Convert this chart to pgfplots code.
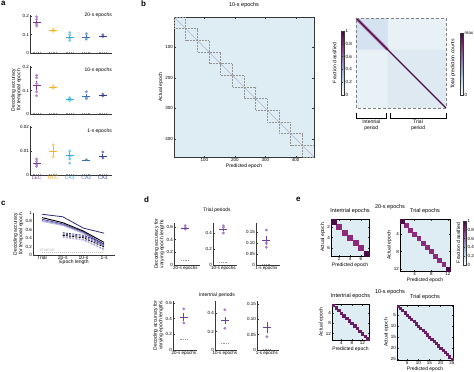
\documentclass[border=0pt]{standalone}
\usepackage{pgfplots}
\pgfplotsset{compat=1.18}
\usepackage{fontspec}
\setmainfont{Liberation Sans}
\pgfkeys{/pgf/number format/assume math mode=true}
\definecolor{lec}{RGB}{122,56,148}
\definecolor{lecl}{RGB}{180,134,198}
\definecolor{mec}{RGB}{246,178,42}
\definecolor{mecl}{RGB}{250,210,122}
\definecolor{cathree}{RGB}{46,170,226}
\definecolor{cathreel}{RGB}{122,200,236}
\definecolor{catwo}{RGB}{58,112,182}
\definecolor{catwol}{RGB}{122,158,206}
\definecolor{caone}{RGB}{52,58,140}
\definecolor{caonel}{RGB}{114,118,178}
\definecolor{axgray}{RGB}{55,55,55}
\definecolor{bgblue}{RGB}{222,236,243}
\definecolor{dmag}{RGB}{142,42,122}
\definecolor{ddark}{RGB}{72,14,68}
\definecolor{dline}{RGB}{105,30,100}
\definecolor{dpur}{RGB}{108,64,158}
\definecolor{dpurl}{RGB}{168,128,198}
\definecolor{navy}{RGB}{42,44,118}
\definecolor{indig}{RGB}{86,76,156}
\definecolor{lav}{RGB}{150,142,202}
\definecolor{lavl}{RGB}{192,188,226}
\definecolor{chgray}{RGB}{150,150,150}
\newcommand{\tk}{\fontsize{4.5}{5}\selectfont}
\newcommand{\lb}{\fontsize{5}{5.5}\selectfont}
\newcommand{\ttl}{\fontsize{5.5}{6}\selectfont}
\newcommand{\pl}{\fontsize{8}{8}\selectfont\bfseries}
\pgfplotsset{
  colormap={fc}{rgb255=(255,255,255) rgb255=(200,222,236) rgb255=(150,168,210) rgb255=(140,108,168) rgb255=(132,46,122) rgb255=(62,10,56)},
  base/.style={scale only axis, anchor=south west, clip=false, scaled ticks=false,
    axis line style={axgray, line width=0.5pt},
    tick style={axgray, line width=0.4pt}, major tick length=1.5pt, tick align=inside,
    ticklabel style={font=\tk, text=black, inner sep=1pt},
    label style={font=\lb}, title style={font=\ttl},
    xlabel style={inner sep=1pt}, ylabel style={inner sep=1pt}},
  lshape/.style={base, axis x line*=bottom, axis y line*=left},
  dax/.style={lshape, xtick={0}, xtick style={draw=none}, xticklabel style={font=\tk}},
  eax/.style={base, xmin=0.5, ymin=0.5, y dir=reverse,
    axis background/.style={fill=bgblue},
    axis line style={black, line width=0.8pt},
    title style={yshift=-4pt}},
  cbar/.style={colormap name=fc, point meta min=0, point meta max=1, colorbar},
  cbstyle/.style={anchor=north west, width=3pt,
    yticklabel style={font=\tk, inner sep=0.8pt}, major tick length=1pt,
    axis line style={axgray, line width=0.4pt},
    every axis y label/.style={font=\lb, at={(axis description cs:#1,0.5)}, rotate=90, anchor=south, inner sep=1pt}},
}
\newcommand{\grp}[4]{%
 \addplot[only marks, mark=*, mark size=1.25pt, color=#2] coordinates {#3};
 \addplot[only marks, mark=-, mark size=4pt, color=#1, line width=0.8pt,
   error bars/.cd, y dir=both, y explicit, error mark=none, error bar style={line width=0.8pt, color=#1}] coordinates {#4};
}
\newcommand{\chance}[1]{%
 \addplot[only marks, mark=-, mark size=4pt, color=chgray, line width=0.4pt, mark options={dash pattern=on 1pt off 0.8pt}] coordinates {#1};
}
\begin{document}
\begin{tikzpicture}
\useasboundingbox (0,0) rectangle (474pt,-372pt);
% panel letters
\node[anchor=north west, inner sep=0pt, font=\pl] at (1pt,-1pt) {a};
\node[anchor=north west, inner sep=0pt, font=\pl] at (141pt,-1pt) {b};
\node[anchor=north west, inner sep=0pt, font=\pl] at (1pt,-201pt) {c};
\node[anchor=north west, inner sep=0pt, font=\pl] at (144pt,-197pt) {d};
\node[anchor=north west, inner sep=0pt, font=\pl] at (296pt,-197pt) {e};

% ---------------- panel a ----------------
\begin{axis}[lshape, at={(30pt,-53pt)}, width=82pt, height=38pt,
  xmin=-0.4, xmax=4.55, ymin=0, ymax=0.205,
  xtick={0,1,2,3,4}, xticklabels={}, xtick style={draw=none},
  ytick={0,0.1,0.2}, yticklabels={0,0.1,0.2}]
\chance{(0,0.004)(1,0.004)(2,0.004)(3,0.004)(4,0.004)}
\grp{lec}{lecl}{(0,0.196)(0,0.182)(0,0.157)(0,0.146)}{(0,0.164) +- (0,0.018)}
\grp{mec}{mecl}{(1,0.129)(1,0.116)}{(1,0.121) +- (0,0.007)}
\grp{cathree}{cathreel}{(2,0.110)(2,0.098)(2,0.080)(2,0.068)}{(2,0.084) +- (0,0.012)}
\grp{catwo}{catwol}{(3,0.104)(3,0.075)}{(3,0.082) +- (0,0.014)}
\grp{caone}{caonel}{(4,0.098)(4,0.089)}{(4,0.092) +- (0,0.006)}
\node[anchor=north east, font=\lb, inner sep=0pt] at (rel axis cs:1,1.05) {20-s epochs};
\end{axis}

\begin{axis}[lshape, at={(30pt,-114pt)}, width=82pt, height=48pt,
  xmin=-0.4, xmax=4.55, ymin=0, ymax=0.205,
  xtick={0,1,2,3,4}, xticklabels={}, xtick style={draw=none},
  ytick={0,0.1,0.2}, yticklabels={0,0.1,0.2},
  ylabel={Decoding accuracy\\for temporal epoch}, ylabel style={align=center, yshift=-1pt}]
\chance{(0,0.002)(1,0.002)(2,0.002)(3,0.002)(4,0.002)}
\grp{lec}{lecl}{(0,0.165)(0,0.155)(0,0.130)(0,0.095)(0,0.078)}{(0,0.123) +- (0,0.020)}
\grp{mec}{mecl}{(1,0.120)(1,0.110)}{(1,0.113) +- (0,0.006)}
\grp{cathree}{cathreel}{(2,0.070)(2,0.067)(2,0.060)(2,0.057)}{(2,0.064) +- (0,0.006)}
\grp{catwo}{catwol}{(3,0.095)(3,0.070)(3,0.065)}{(3,0.074) +- (0,0.010)}
\grp{caone}{caonel}{(4,0.085)(4,0.077)}{(4,0.080) +- (0,0.006)}
\node[anchor=north east, font=\lb, inner sep=0pt] at (rel axis cs:1,0.96) {10-s epochs};
\end{axis}

\begin{axis}[lshape, at={(30pt,-175pt)}, width=82pt, height=49pt,
  xmin=-0.4, xmax=4.55, ymin=0, ymax=0.0205,
  xtick={0,1,2,3,4}, xtick style={draw=none},
  xticklabels={\textcolor{lec}{LEC},\textcolor{mec}{MEC},\textcolor{cathree}{CA3},\textcolor{catwo}{CA2},\textcolor{caone}{CA1}},
  xticklabel style={font=\lb},
  ytick={0,0.01,0.02}, yticklabels={0,0.01,0.02}]
\chance{(0,0.0002)(1,0.0002)(2,0.0002)(3,0.0002)(4,0.0002)}
\grp{lec}{lecl}{(0,0.0067)(0,0.0057)(0,0.0043)(0,0.0036)}{(0,0.0050) +- (0,0.0012)}
\grp{mec}{mecl}{(1,0.0126)(1,0.0076)}{(1,0.0100) +- (0,0.0022)}
\grp{cathree}{cathreel}{(2,0.0100)(2,0.0079)(2,0.0067)(2,0.0050)}{(2,0.0081) +- (0,0.0016)}
\grp{catwo}{catwol}{(3,0.0064)}{(3,0.0063) +- (0,0.0004)}
\grp{caone}{caonel}{(4,0.0096)(4,0.0071)}{(4,0.0079) +- (0,0.0010)}
\node[anchor=north east, font=\lb, inner sep=0pt] at (rel axis cs:1,0.94) {1-s epochs};
\end{axis}

% ---------------- panel b (main) ----------------
\begin{axis}[base, at={(174pt,-157pt)}, width=140pt, height=140pt,
  xmin=0, xmax=460, ymin=0, ymax=460, y dir=reverse, clip=true,
  xtick={100,200,300,400}, ytick={100,200,300,400},
  axis background/.style={fill=bgblue},
  title={10-s epochs}, xlabel={Predicted epoch}, ylabel={Actual epoch},
  cbar,
  colorbar style={cbstyle=-1.3, at={(333pt,-31pt)}, height=64pt,
    ytick={0,0.2,0.4,0.6,0.8,1}, yticklabels={0,0.2,0.4,0.6,0.8,1},
    ylabel={Fraction classified}}]
\addplot[color=lav!60!bgblue, line width=0.6pt] coordinates {(0,0) (460,460)};
\addplot[color=gray!85, line width=0.5pt, dash pattern=on 0.6pt off 0.9pt] coordinates {
 (0,0)(38,0)(38,38)(77,38)(77,77)(115,77)(115,115)(153,115)(153,153)(192,153)(192,192)(230,192)(230,230)(268,230)(268,268)(307,268)(307,307)(345,307)(345,345)(383,345)(383,383)(422,383)(422,422)(460,422)(460,460)};
\addplot[color=gray!85, line width=0.5pt, dash pattern=on 0.6pt off 0.9pt] coordinates {
 (0,0)(0,38)(38,38)(38,77)(77,77)(77,115)(115,115)(115,153)(153,153)(153,192)(192,192)(192,230)(230,230)(230,268)(268,268)(268,307)(307,307)(307,345)(345,345)(345,383)(383,383)(383,422)(422,422)(422,460)(460,460)};
\end{axis}

% ---------------- panel b (right) ----------------
\begin{axis}[base, at={(356pt,-108pt)}, width=90pt, height=90pt,
  xmin=0, xmax=1, ymin=0, ymax=1, xtick=\empty, ytick=\empty,
  axis line style={gray, line width=0.8pt, dash pattern=on 3pt off 2pt},
  axis on top,
  cbar,
  colorbar style={cbstyle=-1.3, at={(452pt,-33pt)}, height=62pt,
    ytick={0,1}, yticklabels={0,max},
    ylabel={Total prediction counts}}]
\addplot[fill={rgb,255:red,232;green,241;blue,246}, draw=none] coordinates {(0,0)(1,0)(1,1)(0,1)} \closedcycle;
\addplot[fill={rgb,255:red,212;green,227;blue,239}, draw=none] coordinates {(0,0.65)(0.35,0.65)(0.35,1)(0,1)} \closedcycle;
\addplot[fill={rgb,255:red,222;green,233;blue,242}, draw=none] coordinates {(0.35,0)(1,0)(1,0.65)(0.35,0.65)} \closedcycle;
\addplot[color={rgb,255:red,176;green,110;blue,170}, line width=3pt] coordinates {(0.01,0.99)(0.35,0.65)};
\addplot[color=ddark, line width=1.3pt] coordinates {(0,1)(1,0)};
\addplot[black, line width=0.7pt] coordinates {(0,-0.05)(0,-0.11)(0.34,-0.11)(0.34,-0.05)};
\addplot[black, line width=0.7pt] coordinates {(0.38,-0.05)(0.38,-0.11)(1,-0.11)(1,-0.05)};
\node[font=\lb, align=center, anchor=north, inner sep=0pt] at (axis cs:0.17,-0.135) {Intertrial\\period};
\node[font=\lb, align=center, anchor=north, inner sep=0pt] at (axis cs:0.69,-0.135) {Trial\\period};
\end{axis}

% ---------------- panel c ----------------
\begin{axis}[lshape, at={(33pt,-255pt)}, width=82pt, height=42pt,
  xmin=-0.44, xmax=3.53, ymin=0, ymax=1,
  xtick={0,1,2,3}, xticklabels={Trial,20-s,10-s,1-s}, xtick style={draw=none},
  xticklabel style={font=\lb},
  ytick={0,0.2,0.4,0.6,0.8,1}, yticklabels={0,0.2,0.4,0.6,0.8,1},
  xlabel={Epoch length}, xlabel style={yshift=2pt},
  ylabel={Decoding accuracy\\for temporal epoch}, ylabel style={align=center}]
\addplot[color=lightgray, line width=0.6pt, dash pattern=on 1pt off 1pt] coordinates {(0,0.06)(3,0.06)};
\node[font=\tk, text=lightgray, anchor=south west, inner sep=0pt] at (axis cs:-0.1,0.08) {chance};
\addplot[color=lavl, line width=0.8pt] coordinates {(0,0.80)(1,0.70)(2,0.51)(3,0.20)};
\addplot[color=lav, line width=0.8pt] coordinates {(0,0.82)(1,0.72)(2,0.53)(3,0.22)};
\addplot[color=indig, line width=0.8pt] coordinates {(0,0.85)(1,0.74)(2,0.55)(3,0.25)};
\addplot[color=black, line width=0.9pt] coordinates {(0,0.89)(1,0.77)(2,0.57)(3,0.30)};
\addplot[color=navy, line width=0.8pt] coordinates {(0,0.97)(1,0.91)(2,0.64)(3,0.52)};
\addplot[color=lavl, line width=0.8pt, dash pattern=on 2pt off 1.2pt] coordinates {(1,0.42)(2,0.35)(3,0.12)};
\addplot[color=lav, line width=0.8pt, dash pattern=on 2pt off 1.2pt] coordinates {(1,0.44)(2,0.37)(3,0.14)};
\addplot[color=indig, line width=0.8pt, dash pattern=on 2pt off 1.2pt] coordinates {(1,0.50)(2,0.44)(3,0.23)};
\addplot[color=black, line width=0.9pt, dash pattern=on 2pt off 1.2pt] coordinates {(1,0.47)(2,0.41)(3,0.19)};
\addplot[color=navy, line width=0.8pt, dash pattern=on 2pt off 1.2pt] coordinates {(1,0.53)(2,0.47)(3,0.27)};
\end{axis}

% ---------------- panel d ----------------
\node[font=\lb] at (217pt,-210pt) {Trial periods};
\node[font=\lb] at (217pt,-295pt) {Intertrial periods};
\begin{axis}[dax, at={(174pt,-265pt)}, width=26pt, height=42pt,
  xmin=-0.42, xmax=0.55, ymin=0, ymax=0.66, xticklabels={20-s epochs},
  ytick={0,0.2,0.4,0.6}, yticklabels={0,0.2,0.4,0.6},
  ylabel={Decoding accuracy for\\varying epoch lengths}, ylabel style={align=center}]
\chance{(0,0.083)}
\grp{dpur}{dpurl}{(0,0.62)(0,0.585)(0,0.565)}{(0,0.58) +- (0,0.02)}
\end{axis}
\begin{axis}[dax, at={(213pt,-265pt)}, width=24pt, height=42pt,
  xmin=-0.42, xmax=0.55, ymin=0, ymax=0.525, xticklabels={10-s epochs},
  ytick={0,0.2,0.4}, yticklabels={0,0.2,0.4}]
\chance{(0,0.04)}
\grp{dpur}{dpurl}{(0,0.49)(0,0.47)(0,0.40)}{(0,0.45) +- (0,0.03)}
\end{axis}
\begin{axis}[dax, at={(256pt,-265pt)}, width=24pt, height=42pt,
  xmin=-0.42, xmax=0.55, ymin=0, ymax=0.19, xticklabels={1-s epochs},
  ytick={0,0.05,0.1,0.15}, yticklabels={0,0.05,0.10,0.15}]
\chance{(0,0.004)}
\grp{dpur}{dpurl}{(0,0.158)(0,0.10)(0,0.08)}{(0,0.11) +- (0,0.02)}
\end{axis}
\begin{axis}[dax, at={(173pt,-350pt)}, width=24pt, height=49pt,
  xmin=-0.45, xmax=0.55, ymin=0, ymax=0.625, xticklabels={20-s epochs},
  ytick={0,0.2,0.4,0.6}, yticklabels={0,0.2,0.4,0.6},
  ylabel={Decoding accuracy for\\varying epoch lengths}, ylabel style={align=center}]
\chance{(0,0.143)}
\grp{dpur}{dpurl}{(0,0.525)(0,0.345)}{(0,0.42) +- (0,0.05)}
\end{axis}
\begin{axis}[dax, at={(215pt,-350pt)}, width=22pt, height=49pt,
  xmin=-0.45, xmax=0.55, ymin=0, ymax=0.53, xticklabels={10-s epochs},
  ytick={0,0.2,0.4}, yticklabels={0,0.2,0.4}]
\chance{(0,0.071)}
\grp{dpur}{dpurl}{(0,0.435)(0,0.235)}{(0,0.32) +- (0,0.04)}
\end{axis}
\begin{axis}[dax, at={(257pt,-350pt)}, width=22pt, height=49pt,
  xmin=-0.45, xmax=0.55, ymin=0, ymax=0.16, xticklabels={1-s epochs},
  ytick={0,0.05,0.1,0.15}, yticklabels={0,0.05,0.10,0.15}]
\chance{(0,0.003)}
\grp{dpur}{dpurl}{(0,0.043)}{(0,0.075) +- (0,0.018)}
\end{axis}

% ---------------- panel e ----------------
\node[font=\ttl] at (390pt,-207pt) {20-s epochs};
\node[font=\ttl] at (390pt,-292pt) {10-s epochs};
\begin{axis}[eax, at={(331pt,-256pt)}, width=38pt, height=37pt,
  xmax=7.5, ymax=7.5, xtick={2,4,6}, ytick={2,4,6},
  title={Intertrial epochs}, xlabel={Predicted epoch}, ylabel={Actual epoch}]
\addplot[only marks, mark=square*, mark size=2.5pt, color=dmag] coordinates {(2,2)(3,3)(4,4)(5,5)(6,6)};
\addplot[only marks, mark=square*, mark size=2.5pt, color=ddark] coordinates {(1,1)(7,7)};
\end{axis}
\begin{axis}[eax, at={(400pt,-271pt)}, width=50pt, height=52pt,
  xmax=12.5, ymax=12.5, xtick={4,8,12}, ytick={4,8,12},
  title={Trial epochs}, xlabel={Predicted epoch}, ylabel={Actual epoch},
  cbar,
  colorbar style={cbstyle=-0.7, at={(455pt,-221pt)}, height=44pt,
    ytick={0,0.2,0.4,0.6,0.8,1}, yticklabels={0,0.2,0.4,0.6,0.8,1},
    ylabel={Fraction classified}}]
\addplot[only marks, mark=square*, mark size=1.9pt, color=dmag] coordinates {(2,2)(3,3)(4,4)(5,5)(6,6)(7,7)(8,8)(9,9)(10,10)(11,11)};
\addplot[only marks, mark=square*, mark size=1.9pt, color=ddark] coordinates {(1,1)(12,12)};
\end{axis}
\begin{axis}[eax, at={(332pt,-340pt)}, width=37pt, height=36pt,
  xmax=14.5, ymax=14.5, xtick={4,8,12}, ytick={4,8,12},
  title={Intertrial epochs}, xlabel={Predicted epoch}, ylabel={Actual epoch}]
\addplot[only marks, mark=square*, mark size=1.25pt, color=dline] coordinates {(1,1)(2,2)(3,3)(4,4)(5,5)(6,6)(7,7)(8,8)(9,9)(10,10)(11,11)(12,12)(13,13)(14,14)};
\end{axis}
\begin{axis}[eax, at={(397pt,-360pt)}, width=56pt, height=55pt,
  xmax=25.5, ymax=25.5, xtick={5,10,15,20,25}, ytick={5,10,15,20,25},
  title={Trial epochs}, xlabel={Predicted epoch}, ylabel={Actual epoch}]
\addplot[only marks, mark=square*, mark size=1.05pt, color=dline] coordinates {(1,1)(2,2)(3,3)(4,4)(5,5)(6,6)(7,7)(8,8)(9,9)(10,10)(11,11)(12,12)(13,13)(14,14)(15,15)(16,16)(17,17)(18,18)(19,19)(20,20)(21,21)(22,22)(23,23)(24,24)(25,25)};
\end{axis}
\end{tikzpicture}
\end{document}
